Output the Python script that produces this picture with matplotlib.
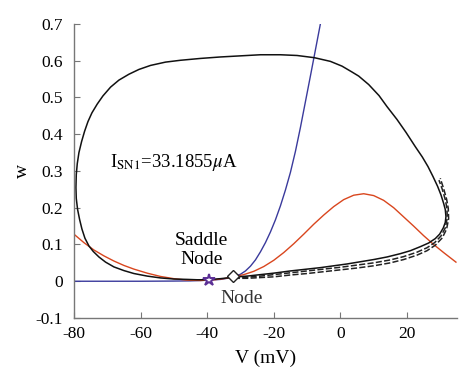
import matplotlib
matplotlib.use('Agg')
import matplotlib.pyplot as plt

plt.rcParams['font.family'] = ['Liberation Serif', 'DejaVu Serif']
plt.rcParams['mathtext.fontset'] = 'stix'
plt.rcParams['axes.unicode_minus'] = False

# limit cycle (solid black)
cycle_v = [-40, -36, -32, -28, -24, -20, -15, -10, -6, -2, 2, 6, 10, 14, 18, 21, 24, 26.5, 28.5, 29.8,
           30.9, 31.5, 31.7, 31.5, 31.0, 30.2, 29.2, 27.8, 26.3, 24.6, 22.5, 19.7, 17, 14, 11.6, 8.5, 5.5,
           3.5, 0.5, -3, -7.8, -13, -18, -24, -30, -36, -42, -48, -52.5, -57, -60.5, -63.5, -66.5, -69,
           -71.3, -73, -74.6, -75.8, -76.8, -77.7, -78.5, -79.0, -79.3, -79.4, -79.3, -78.9, -78.3, -77.6,
           -76.7, -75.5, -74.2, -72.5, -70.5, -68, -65, -62, -58, -54, -50, -46, -43, -40]
cycle_w = [0.004, 0.007, 0.011, 0.014, 0.018, 0.022, 0.028, 0.033, 0.037, 0.042, 0.047, 0.053, 0.059,
           0.066, 0.075, 0.083, 0.094, 0.104, 0.116, 0.128, 0.145, 0.160, 0.176, 0.195, 0.212, 0.235,
           0.258, 0.285, 0.312, 0.338, 0.366, 0.405, 0.44, 0.475, 0.505, 0.535, 0.558, 0.569, 0.585,
           0.598, 0.608, 0.614, 0.616, 0.616, 0.613, 0.610, 0.606, 0.601, 0.596, 0.587, 0.576, 0.563,
           0.547, 0.528, 0.504, 0.482, 0.458, 0.434, 0.408, 0.380, 0.350, 0.320, 0.290, 0.255, 0.225,
           0.195, 0.168, 0.142, 0.117, 0.096, 0.081, 0.066, 0.052, 0.039, 0.029, 0.021, 0.014, 0.009,
           0.006, 0.005, 0.004, 0.004]

# transient trajectories (dashed black)
dash1_v = [-32, -28, -24, -20, -15, -10, -5, 0, 5, 10, 15, 19, 23, 26, 28.3, 30.2, 31.5, 32.1, 32.0,
           31.5, 30.6, 29.6]
dash1_w = [0.010, 0.011, 0.014, 0.018, 0.023, 0.028, 0.033, 0.038, 0.044, 0.050, 0.058, 0.067, 0.079,
           0.091, 0.105, 0.123, 0.145, 0.172, 0.198, 0.222, 0.250, 0.275]
dash2_v = [-32, -28, -24, -20, -15, -10, -5, 0, 5, 10, 15, 19, 23, 26, 28.5, 30.6, 31.9, 32.5, 32.4,
           31.9, 31.0, 30.0]
dash2_w = [0.008, 0.008, 0.010, 0.012, 0.017, 0.021, 0.026, 0.031, 0.036, 0.042, 0.050, 0.059, 0.071,
           0.083, 0.098, 0.118, 0.142, 0.170, 0.198, 0.223, 0.252, 0.280]

# w-nullcline (blue)
wnull_v = [-80, -60, -50, -45, -42, -39, -36, -34, -32, -30, -28.5, -27, -25.5, -24, -22.5, -21, -19.5,
           -18, -16.5, -15, -13.5, -12, -10.5, -9, -7.5, -6]
wnull_w = [0.0, 0.0, 0.0005, 0.001, 0.002, 0.003, 0.005, 0.008, 0.012, 0.019, 0.028, 0.041, 0.058, 0.080,
           0.105, 0.134, 0.167, 0.205, 0.248, 0.296, 0.353, 0.418, 0.488, 0.558, 0.629, 0.700]

# V-nullcline (red)
vnull_v = [-80, -77, -74, -71, -68, -65, -62, -58, -54, -50, -46, -42, -38, -35, -32, -29, -26, -23, -20,
           -17, -14, -11, -8, -5, -2, 1, 4, 7, 10, 13, 16, 19, 22, 25, 28, 31, 34.7]
vnull_w = [0.128, 0.105, 0.085, 0.069, 0.055, 0.043, 0.033, 0.022, 0.013, 0.007, 0.003, 0.002, 0.004,
           0.007, 0.012, 0.018, 0.027, 0.040, 0.057, 0.078, 0.102, 0.128, 0.155, 0.180, 0.203, 0.222,
           0.234, 0.238, 0.233, 0.220, 0.200, 0.175, 0.150, 0.124, 0.100, 0.078, 0.052]

saddle_node = (-39.4, 0.004)
node = (-32.1, 0.015)

xticks = [-80, -60, -40, -20, 0, 20]
yticks = [-0.1, 0, 0.1, 0.2, 0.3, 0.4, 0.5, 0.6, 0.7]
ytick_labels = ['-0.1', '0', '0.1', '0.2', '0.3', '0.4', '0.5', '0.6', '0.7']

fig = plt.figure(figsize=(4.74, 3.85), dpi=100)
ax = fig.add_axes([0.156, 0.174, 0.808, 0.764])

ax.plot(wnull_v, wnull_w, color='#3a3a9c', lw=1.0)
ax.plot(vnull_v, vnull_w, color='#d9461e', lw=1.0)
ax.plot(dash1_v, dash1_w, color='#222222', lw=1.1, ls=(0, (4, 1.5)))
ax.plot(dash2_v, dash2_w, color='#222222', lw=1.1, ls=(0, (4, 1.5)))
ax.plot(cycle_v, cycle_w, color='#111111', lw=1.1)

ax.plot(*saddle_node, marker='*', ms=9, mfc='white', mec='#5b2f95', mew=1.4, zorder=5)
ax.plot(*node, marker='D', ms=6.5, mfc='white', mec='#222222', mew=1.0, zorder=5)

ax.text(-41.7, 0.084, 'Saddle\nNode', ha='center', va='center', fontsize=14, linespacing=1.15)
ax.text(-29.7, -0.046, 'Node', ha='center', va='center', fontsize=14, color='#333333')
ax.text(-69.2, 0.323, r'I$_{\mathrm{SN1}}$=33.1855$\mu$A', ha='left', va='center', fontsize=13.5)

ax.set_xlim(-80, 35)
ax.set_ylim(-0.1, 0.7)
ax.set_xticks(xticks)
ax.set_yticks(yticks)
ax.set_yticklabels(ytick_labels)
ax.set_xlabel('V (mV)', fontsize=14, labelpad=5)
ax.set_ylabel('w', fontsize=14, labelpad=3)

for s in ['top', 'right']:
    ax.spines[s].set_visible(False)
for s in ['left', 'bottom']:
    ax.spines[s].set_color('#777777')
    ax.spines[s].set_linewidth(1.0)
ax.tick_params(direction='in', length=4, color='#777777', labelsize=12.5)
ax.tick_params(axis='y', pad=8)
ax.tick_params(axis='x', pad=6)

fig.savefig('out.png', dpi=100)
